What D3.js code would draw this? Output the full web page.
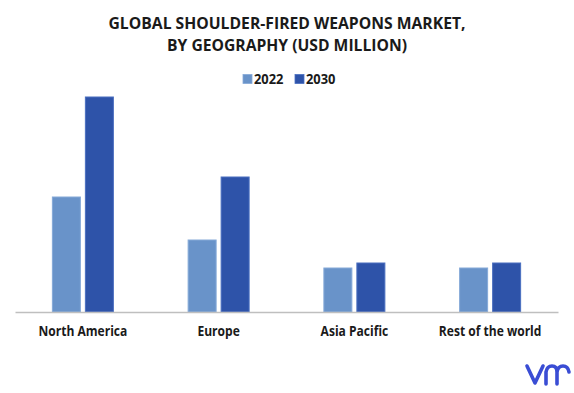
<!DOCTYPE html>
<html>
<head>
<meta charset="utf-8">
<script src="https://cdn.jsdelivr.net/npm/d3@7.9.0/dist/d3.min.js"></script>
<style>
  body { margin: 0; background: #fff; }
  svg { display: block; font-family: "Open Sans", "Noto Sans", sans-serif; }
</style>
</head>
<body>
<svg id="chart" width="574" height="393"></svg>
<script>
// data (arbitrary units, no y axis shown)
const regions = ["North America", "Europe", "Asia Pacific", "Rest of the world"];
const years = ["2022", "2030"];
const values2022 = [115, 72, 44, 44];
const values2030 = [215, 135, 49, 49];
const colors = ["#6993c9", "#2e53a9"];
const titleLines = ["GLOBAL SHOULDER-FIRED WEAPONS MARKET,", "BY GEOGRAPHY (USD MILLION)"];
const titleWidths = [357, 240];

const svg = d3.select("#chart");
const width = 574;
const baseY = 312;

// title (narrow bold font in the original, so squeeze to its width)
svg.selectAll("text.title")
  .data(titleLines)
  .join("text")
  .attr("class", "title")
  .attr("x", (d, i) => 287 - titleWidths[i] / 2)
  .attr("y", (d, i) => 29 + i * 21.7)
  .attr("font-size", 16.5)
  .attr("font-weight", 700)
  .attr("fill", "#1a1a1a")
  .attr("textLength", (d, i) => titleWidths[i])
  .attr("lengthAdjust", "spacingAndGlyphs")
  .text(d => d);

// legend
const legend = svg.append("g").attr("transform", "translate(243,74.5)");
const legendItems = legend.selectAll("g")
  .data(years)
  .join("g")
  .attr("transform", (d, i) => `translate(${i * 52},0)`);
legendItems.append("rect")
  .attr("width", 9).attr("height", 9)
  .attr("fill", (d, i) => colors[i])
  .attr("stroke", (d, i) => i === 0 ? "#85a9d8" : "#4a6fc0")
  .attr("stroke-width", 0.8);
legendItems.append("text")
  .attr("x", 11).attr("y", 9.5)
  .attr("font-size", 14)
  .attr("font-weight", 700)
  .attr("fill", "#1a1a1a")
  .attr("textLength", 29.5)
  .attr("lengthAdjust", "spacingAndGlyphs")
  .text(d => d);

// scales
const x0 = d3.scaleBand().domain(regions).range([15, 558]);
const y = d3.scaleLinear().domain([0, 215]).range([baseY, 97]);
const barW = 28, gap = 5;

const series = [values2022, values2030];
const groups = svg.append("g").selectAll("g")
  .data(regions)
  .join("g")
  .attr("transform", d => `translate(${x0(d) + x0.bandwidth() / 2},0)`);

groups.selectAll("rect")
  .data((d, i) => series.map((s, k) => ({ k, v: s[i] })))
  .join("rect")
  .attr("x", d => d.k === 0 ? -(barW + gap / 2) : gap / 2)
  .attr("y", d => y(d.v))
  .attr("width", barW)
  .attr("height", d => baseY - y(d.v))
  .attr("fill", d => colors[d.k])
  .attr("stroke", d => d.k === 0 ? "#85a9d8" : "#4a6fc0")
  .attr("stroke-width", 1);

// x axis
const xAxis = svg.append("g")
  .attr("transform", `translate(0,${baseY})`)
  .call(d3.axisBottom(x0).tickSize(0).tickPadding(14));
xAxis.select(".domain").attr("stroke", "#bfbfbf").attr("stroke-width", 1.5);
xAxis.selectAll("text")
  .attr("font-size", 14)
  .attr("font-weight", 700)
  .attr("fill", "#1a1a1a")
  .attr("font-family", "\"Open Sans\", sans-serif")
  .attr("textLength", function () { return this.getComputedTextLength() * 0.86; })
  .attr("lengthAdjust", "spacingAndGlyphs");

// logo: stylised "vmr"
svg.append("path")
  .attr("d", "M527,366 L535,383 L543,366 M546,384 L546,372 Q547,366 552,366 Q557,366 557,372 L557,384 M557,372 Q558,366 563,366 Q568,366 569,372")
  .attr("fill", "none")
  .attr("stroke", "#3a4dd4")
  .attr("stroke-width", 3.6)
  .attr("stroke-linecap", "round")
  .attr("stroke-linejoin", "round");
</script>
</body>
</html>
